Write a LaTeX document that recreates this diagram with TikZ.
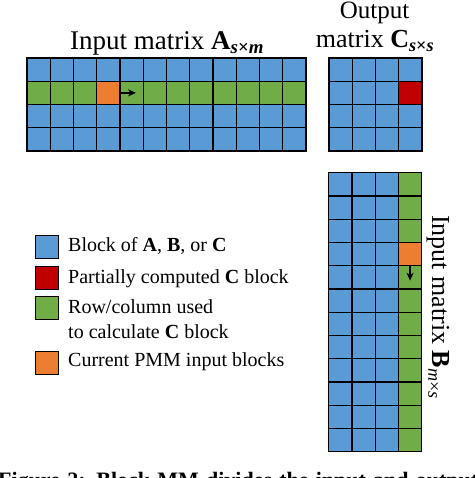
\documentclass[tikz,border=0pt]{standalone}
\usepackage{fontspec}
\setmainfont{Liberation Serif}
\usetikzlibrary{arrows.meta}
\definecolor{cblue}{HTML}{5B9BD5}
\definecolor{cgreen}{HTML}{70AD47}
\definecolor{corange}{HTML}{ED7D31}
\definecolor{cred}{HTML}{C00000}
\begin{document}
\begin{tikzpicture}[x=1pt,y=-1pt,
  cellbox/.style={draw=black, line width=1.2pt, minimum size=23.25pt, inner sep=0pt, outer sep=0pt, anchor=north west},
  keybox/.style={draw=black, line width=0.8pt, minimum size=23pt, inner sep=0pt},
  keytext/.style={anchor=base west, inner sep=0pt, font=\fontsize{20}{24}\selectfont},
  title/.style={inner sep=0pt, font=\fontsize{26}{30}\selectfont},
  flow/.style={-{Stealth[length=8pt,width=7pt]}, line width=1.3pt}]
\useasboundingbox (0,0) rectangle (474,478);
% matrix A
\foreach \c in {0,...,11}{\foreach \r in {0,...,3}{
  \ifnum\r=1 \ifnum\c=3 \def\cc{corange}\else\def\cc{cgreen}\fi\else\def\cc{cblue}\fi
  \node[cellbox, fill=\cc] (A-\c-\r) at (27+\c*23.25, 58+\r*23.25) {};
}}
% matrix C
\foreach \c in {0,...,3}{\foreach \r in {0,...,3}{
  \ifnum\r=1 \ifnum\c=3 \def\cc{cred}\else\def\cc{cblue}\fi\else\def\cc{cblue}\fi
  \node[cellbox, fill=\cc] (C-\c-\r) at (329+\c*23.25, 58+\r*23.25) {};
}}
% matrix B
\foreach \c in {0,...,3}{\foreach \r in {0,...,11}{
  \ifnum\c=3 \ifnum\r=3 \def\cc{corange}\else\def\cc{cgreen}\fi\else\def\cc{cblue}\fi
  \node[cellbox, fill=\cc] (B-\c-\r) at (328.7+\c*23.25, 172.7+\r*23.25) {};
}}
% arrows
\coordinate (aTip) at ([xshift=16pt]A-3-1.east);
\draw[flow] (A-3-1.east) -- (aTip);
\coordinate (bTip) at ([yshift=-15pt]B-3-3.south);
\draw[flow] (B-3-3.south) -- (bTip);
% titles
\node[title, anchor=base west, font=\fontsize{27}{31}\selectfont] (tA) at (70,50) {Input matrix \textbf{A}\textsubscript{\textbf{\textit{s}×\textit{m}}}};
\node[title, anchor=base, font=\fontsize{25}{29}\selectfont] (tC1) at (374.5,19) {Output};
\node[title, anchor=base] (tC2) at (375,48) {matrix \textbf{C}\textsubscript{\textbf{\textit{s}×\textit{s}}}};
\node[title, anchor=base west, rotate=-90] (tB) at (432,215) {Input matrix \textbf{B}\textsubscript{\textit{m}×\textit{s}}};
% legend
\node[keybox, fill=cblue] (k1) at (46.6,247.3) {};
\node[keybox, fill=cred] (k2) at (46.6,278.3) {};
\node[keybox, fill=cgreen] (k3) at (46.6,308.3) {};
\node[keybox, fill=corange] (k4) at (46.6,362.8) {};
\node[keytext] (l1) at (68,251.7) {Block of \textbf{A}, \textbf{B}, or \textbf{C}};
\node[keytext] (l2) at (68,283.3) {Partially computed \textbf{C} block};
\node[keytext] (l3) at (68,313.3) {Row/column used};
\node[keytext] (l3b) at (68,338.3) {to calculate \textbf{C} block};
\node[keytext] (l4) at (68,366.7) {Current PMM input blocks};
% caption (cut off at the lower edge, as in the reference)
\node[anchor=base west, inner sep=0pt, font=\bfseries\fontsize{22}{26}\selectfont] (cap) at (-2,487) {\makebox[480pt][s]{Figure 2: Block MM divides the input and output}};
\end{tikzpicture}
\end{document}
